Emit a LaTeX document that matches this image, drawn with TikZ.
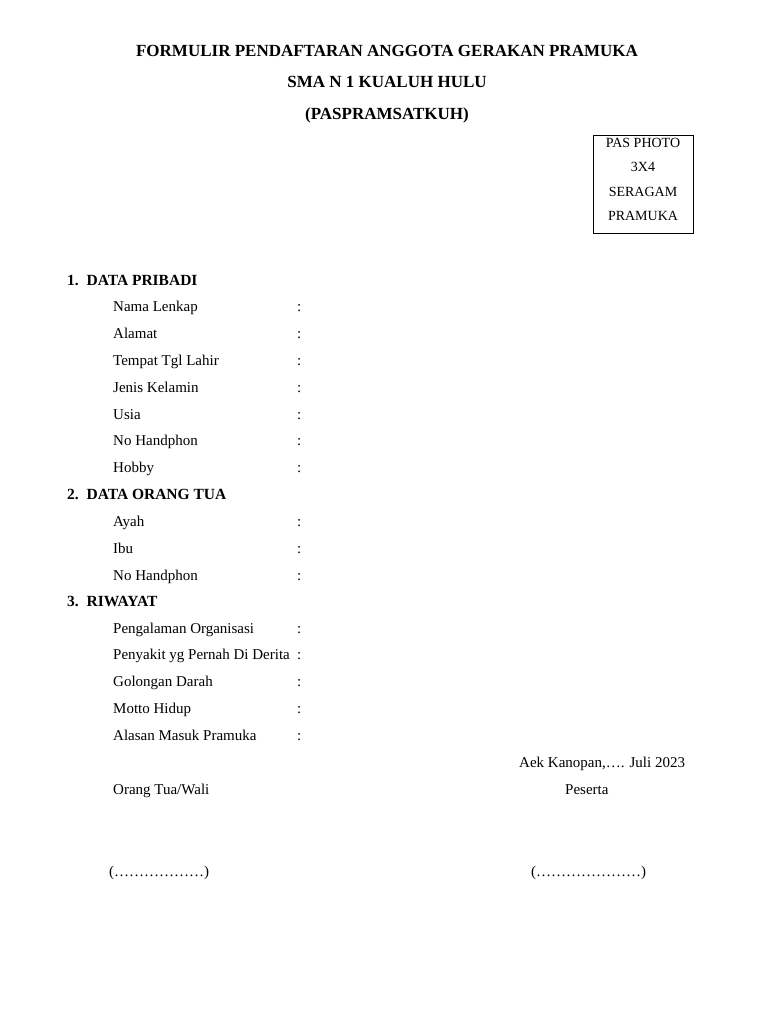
\documentclass[tikz,border=0pt]{standalone}
\usepackage{fontspec}
\setmainfont{Liberation Serif}
\begin{document}
\begin{tikzpicture}[x=1pt,y=-1pt,
  t/.style={anchor=base west,inner sep=0pt,font=\fontsize{15}{18}\selectfont},
  tb/.style={t,font=\fontsize{15.5}{18}\selectfont\bfseries},
  c/.style={anchor=base,inner sep=0pt,font=\fontsize{15}{18}\selectfont},
  cb/.style={c,font=\fontsize{17}{20}\selectfont\bfseries},
  pc/.style={anchor=base,inner sep=0pt,font=\fontsize{14}{16}\selectfont}]
\useasboundingbox (0,0) rectangle (768,1024);
\node[cb] (t1) at (387,57) {FORMULIR PENDAFTARAN ANGGOTA GERAKAN PRAMUKA};
\node[cb] (t2) at (387,88) {SMA N 1 KUALUH HULU};
\node[cb] (t3) at (387,120) {(PASPRAMSATKUH)};
\draw (593,135) rectangle (693,233);
\node[pc] (p1) at (643,148) {PAS PHOTO};
\node[pc] (p2) at (643,172) {3X4};
\node[pc] (p3) at (643,197) {SERAGAM};
\node[pc] (p4) at (643,221) {PRAMUKA};
\node[tb] (s1) at (67,285) {1.\ \ DATA PRIBADI};
\foreach \y/\s in {311/Nama Lenkap,338/Alamat,365/Tempat Tgl Lahir,392/Jenis Kelamin,419/Usia,445/No Handphon,472/Hobby,526/Ayah,553/Ibu,580/No Handphon,633/Pengalaman Organisasi,659/Penyakit yg Pernah Di Derita,686/Golongan Darah,713/Motto Hidup,740/Alasan Masuk Pramuka}{
  \node[t] at (113,\y) {\s};
  \node[t] at (297,\y) {:};
}
\node[tb] (s2) at (67,499) {2.\ \ DATA ORANG TUA};
\node[tb] (s3) at (67,606) {3.\ \ RIWAYAT};
\node[t] (d) at (519,767) {Aek Kanopan,…. Juli 2023};
\node[t] (o) at (113,794) {Orang Tua/Wali};
\node[t] (pe) at (565,794) {Peserta};
\node[t] (so) at (109,876) {(………………)};
\node[t] (sp) at (531,876) {(…………………)};
\end{tikzpicture}
\end{document}
